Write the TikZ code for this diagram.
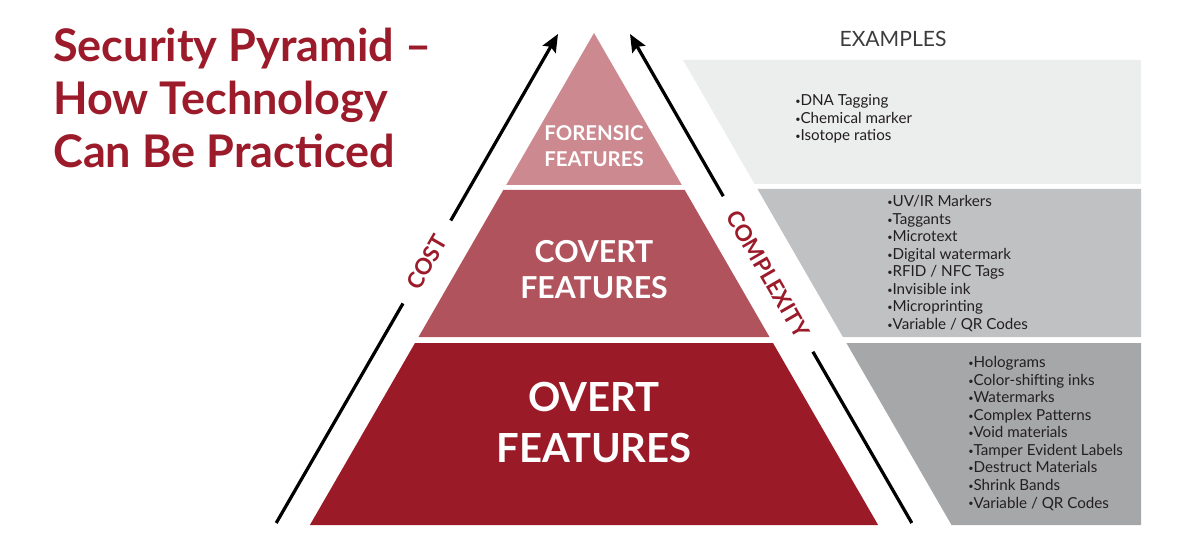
\documentclass[tikz,border=0pt]{standalone}
\usepackage{fontspec}
\setmainfont{Lato}
\usepackage{graphicx}
\usepackage{tikz}
\usetikzlibrary{arrows.meta, positioning}
\definecolor{titlered}{RGB}{155, 27, 42}
\definecolor{forensicpink}{RGB}{204, 138, 144}
\definecolor{covertrose}{RGB}{176, 83, 92}
\definecolor{overtred}{RGB}{154, 26, 39}
\definecolor{panellight}{RGB}{236, 237, 237}
\definecolor{panelmid}{RGB}{192, 193, 195}
\definecolor{paneldark}{RGB}{166, 167, 169}
\definecolor{listgray}{RGB}{35, 31, 32}
\definecolor{headgray}{RGB}{60, 60, 62}
\tikzset{
  >=Stealth,
  axisarrow/.style={-{Stealth[length=12.5pt, width=10.5pt, inset=2pt]}, line width=2.3pt, black},
  axisline/.style={line width=2.3pt, black}
}
\newcommand{\bul}{\raisebox{1pt}{\scalebox{0.6}{\textbullet}}}

\begin{document}
\begin{tikzpicture}[
    x=0.025cm, y=-0.025cm,
    layer/.style={text=white, align=center, inner sep=0pt, anchor=base},
    axislabel/.style={text=titlered, font=\fontsize{16}{16}\selectfont\bfseries, inner xsep=13pt, inner ysep=2pt},
    examples/.style={text=listgray, font=\fontsize{10.8}{12.45}\selectfont, align=left, inner sep=0pt, anchor=base west}
]
    \useasboundingbox (0,0) rectangle (1200,557);

    % Title
    \node[anchor=base west, align=left, inner sep=0pt, text=titlered, font=\fontsize{32}{37.7}\selectfont\bfseries] (title) at (53,168) {Security Pyramid --\\How Technology\\Can Be Practiced};

    % Examples panels
    \fill[panellight] (683,60) -- (1141,60) -- (1141,184) -- (754.6,184) -- cycle;
    \fill[panelmid] (757.5,189) -- (1141,189) -- (1141,337) -- (842.9,337) -- cycle;
    \fill[paneldark] (846.4,343) -- (1141,343) -- (1141,525) -- (951.5,525) -- cycle;

    % Pyramid
    \fill[forensicpink] (594,33) -- (681.8,185) -- (506.2,185) -- cycle;
    \fill[covertrose] (503.3,190) -- (684.7,190) -- (769.5,337) -- (418.5,337) -- cycle;
    \fill[overtred] (415,343) -- (773,343) -- (878.1,525) -- (309.9,525) -- cycle;

    \node[layer, font=\fontsize{14.5}{19.2}\selectfont\bfseries] (forensic) at (594,167) {FORENSIC\\FEATURES};
    \node[layer, font=\fontsize{21.5}{25.6}\selectfont\bfseries] (covert) at (594,298) {COVERT\\FEATURES};
    \node[layer, font=\fontsize{28.5}{35.6}\selectfont\bfseries] (overt) at (594,462) {OVERT\\FEATURES};

    % Cost and complexity axes
    \coordinate (costtop) at (558,34);
    \coordinate (costbot) at (276.2,523);
    \node[axislabel, rotate=60] (cost) at (426.9,262) {COST};
    \draw[axisarrow] (cost) -- (costtop);
    \draw[axisline] (costbot) -- (cost);

    \coordinate (cplxtop) at (630,34);
    \coordinate (cplxbot) at (911.8,523);
    \node[axislabel, rotate=-60] (complexity) at (768,274) {COMPLEXITY};
    \draw[axisarrow] (complexity) -- (cplxtop);
    \draw[axisline] (cplxbot) -- (complexity);

    % Examples
    \node[text=headgray, font=\fontsize{15}{15}\selectfont, anchor=base] (exhead) at (893,47) {EXAMPLES};
    \node[examples] (exforensic) at (795,141) {\bul DNA Tagging\\\bul Chemical marker\\\bul Isotope ratios};
    \node[examples] (excovert) at (887,329.5) {\bul UV/IR Markers\\\bul Taggants\\\bul Microtext\\\bul Digital watermark\\\bul RFID / NFC Tags\\\bul Invisible ink\\\bul Microprinting\\\bul Variable / QR Codes};
    \node[examples] (exovert) at (968,508) {\bul Holograms\\\bul Color-shifting inks\\\bul Watermarks\\\bul Complex Patterns\\\bul Void materials\\\bul Tamper Evident Labels\\\bul Destruct Materials\\\bul Shrink Bands\\\bul Variable / QR Codes};
\end{tikzpicture}
\end{document}
